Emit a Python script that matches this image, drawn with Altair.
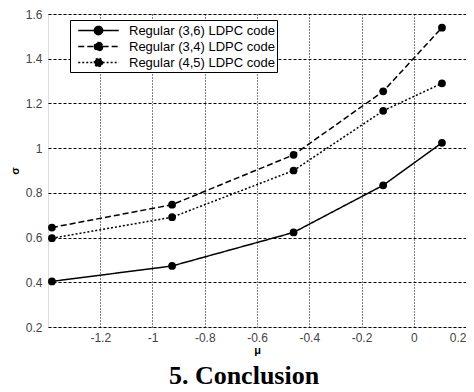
import altair as alt
import pandas as pd

mu = [-1.385, -0.925, -0.46, -0.117, 0.108]
s36 = [0.404, 0.473, 0.623, 0.834, 1.024]
s34 = [0.645, 0.747, 0.97, 1.254, 1.539]
s45 = [0.597, 0.691, 0.90, 1.167, 1.29]
names = ["Regular (3,6) LDPC code", "Regular (3,4) LDPC code", "Regular (4,5) LDPC code"]
x_ticks = [-1.2, -1.0, -0.8, -0.6, -0.4, -0.2, 0.0, 0.2]
y_ticks = [0.2, 0.4, 0.6, 0.8, 1.0, 1.2, 1.4, 1.6]

rows = []
for name, ys in zip(names, [s36, s34, s45]):
    for x, y in zip(mu, ys):
        rows.append({"mu": x, "sigma": y, "code": name})
df = pd.DataFrame(rows)

sym = "M-2.7,0L-0.55,0M0.55,0L2.7,0M0.55,0A0.55,0.55,0,1,1,-0.55,0A0.55,0.55,0,1,1,0.55,0"

xenc = alt.X("mu:Q", scale=alt.Scale(domain=[-1.4, 0.2], nice=False, zero=False),
             axis=alt.Axis(values=x_ticks, title="μ", labelExpr="datum.value + ''",
                           gridDash=[1, 2], gridColor="black", gridOpacity=1, ticks=False,
                           labelFont="Liberation Sans", labelFontSize=12, labelColor="#444",
                           labelPadding=5, titleFont="Liberation Sans", titleFontSize=11,
                           titleFontWeight="bold", titlePadding=1, domain=False))
yenc = alt.Y("sigma:Q", scale=alt.Scale(domain=[0.2, 1.6], nice=False, zero=False),
             axis=alt.Axis(values=y_ticks, title="σ", labelExpr="datum.value + ''",
                           gridDash=[3, 2], gridColor="black", gridOpacity=1, ticks=False,
                           labelFont="Liberation Sans", labelFontSize=12, labelColor="#444",
                           labelPadding=6, titleFont="Liberation Sans", titleFontSize=11,
                           titlePadding=5, domain=False))

dash = alt.StrokeDash("code:N", scale=alt.Scale(domain=names, range=[[1, 0], [6, 3], [2, 2]]),
                      legend=alt.Legend(title=None, orient="none", legendX=22, legendY=6,
                                        symbolType=sym, symbolSize=225, symbolStrokeWidth=1.5,
                                        symbolStrokeColor="black", symbolFillColor="black",
                                        labelFont="Liberation Sans", labelFontSize=13,
                                        labelColor="black", strokeColor="black",
                                        fillColor="white", padding=2, rowPadding=0,
                                        symbolOffset=18, labelOffset=22))

lines = alt.Chart(df).mark_line(strokeWidth=1.5, color="black").encode(
    x=xenc, y=yenc, strokeDash=dash, detail="code:N")
pts = alt.Chart(df).mark_circle(size=60, color="black", opacity=1).encode(
    x="mu:Q", y="sigma:Q", detail="code:N")

chart = alt.layer(lines, pts).properties(
    width=418, height=313,
    autosize=alt.AutoSizeParams(type="none"),
    padding={"left": 40, "top": 6, "right": 0, "bottom": 65},
    title=alt.TitleParams("5. Conclusion", orient="bottom", font="Liberation Serif",
                          fontSize=26, fontWeight="bold", color="black", dx=-13, offset=8),
).configure_view(stroke="black", strokeWidth=1.5).configure(background="white")

chart.save("out.html", embed_options={"renderer": "svg", "actions": False})
